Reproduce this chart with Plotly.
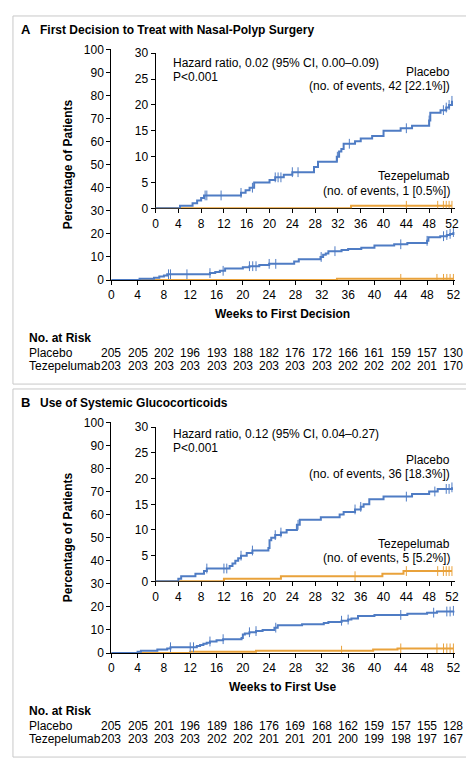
import numpy as np
import plotly.graph_objects as go

BLUE = "#4f7cc4"
ORANGE = "#e9a23b"
FONT = "Liberation Sans, Arial"

weeks = list(range(0, 53, 4))

# Panel A: first decision to treat with nasal-polyp surgery
a_pla_t = [0, 4.3, 6.5, 7.3, 8, 8.5, 15, 15.8, 16.5, 17.3, 20, 21, 22.5, 24, 27.8, 28.5,
           31.8, 32.2, 32.6, 33, 35, 36, 38, 40, 43, 45, 48, 48.2, 50, 51, 51.5, 52]
a_pla_y = [0, 0.5, 1, 1.5, 2, 2.5, 3, 3.5, 4, 5, 5.5, 6, 6.5, 7, 8, 9,
           10, 11, 11.5, 12.5, 13, 13.5, 14, 15, 15.5, 16, 17, 18.5, 19, 19.5, 20, 20.8]
a_pla_cens = [8.7, 9, 11.5, 15, 17, 21, 21.5, 22, 24, 25, 31.9, 34, 44, 48, 50.5, 51, 51.5, 52]
a_tez_t = [0, 34.3, 52]
a_tez_y = [0, 0.5, 0.5]
a_tez_cens = [44, 49.5, 50.5, 51, 51.5, 52]
a_risk_pla = [205, 205, 202, 196, 193, 188, 182, 176, 172, 166, 161, 159, 157, 130]
a_risk_tez = [203, 203, 203, 203, 203, 203, 203, 203, 203, 202, 202, 202, 201, 170]

# Panel B: use of systemic glucocorticoids
b_pla_t = [0, 4, 4.5, 7, 8.5, 9, 13, 13.5, 14, 14.5, 15, 16, 17, 19.8, 20, 20.3, 21, 22, 23,
           24.8, 25.3, 29, 32.3, 33, 35, 36, 36.5, 37.5, 40, 45, 48, 49.5, 52]
b_pla_y = [0, 0.5, 1, 1.5, 2, 2.5, 3, 3.5, 4, 4.5, 5, 5.5, 6, 6.5, 8, 8.5, 9, 9.5, 10,
           11, 12, 12.5, 13, 13.5, 14, 14.5, 15, 16, 16.5, 17, 17.5, 18, 18.3]
b_pla_cens = [9, 12, 12.5, 15, 17, 21, 22, 25, 35, 36, 44, 49, 51, 51.5, 52]
b_tez_t = [0, 12, 22, 39.8, 43.5, 52]
b_tez_y = [0, 0.5, 1, 1.5, 2, 2]
b_tez_cens = [35, 44, 49.5, 50.5, 51, 51.5, 52]
b_risk_pla = [205, 205, 201, 196, 189, 186, 176, 169, 168, 162, 159, 157, 155, 128]
b_risk_tez = [203, 203, 203, 203, 202, 202, 201, 201, 201, 200, 199, 198, 197, 167]

W, H = 474, 759


def px(v):
    return 1 - v / H


def step_at(ts, ys, t):
    i = np.searchsorted(ts, t, side="right") - 1
    return ys[max(i, 0)]


fig = go.Figure()


def add_curves(xa, ya, t, y, cens, color):
    fig.add_trace(go.Scatter(x=t, y=y, mode="lines", line=dict(color=color, width=2, shape="hv"),
                             xaxis=xa, yaxis=ya, showlegend=False, hoverinfo="skip"))
    fig.add_trace(go.Scatter(x=cens, y=[step_at(t, y, c) for c in cens], mode="markers",
                             marker=dict(symbol="line-ns-open", size=7, color=color,
                                         line=dict(color=color, width=1)),
                             xaxis=xa, yaxis=ya, showlegend=False, hoverinfo="skip"))


panels = [
    dict(main=("x", "y"), ins=("x2", "y2"), pla=(a_pla_t, a_pla_y, a_pla_cens),
         tez=(a_tez_t, a_tez_y, a_tez_cens)),
    dict(main=("x3", "y3"), ins=("x4", "y4"), pla=(b_pla_t, b_pla_y, b_pla_cens),
         tez=(b_tez_t, b_tez_y, b_tez_cens)),
]
for p in panels:
    for xa, ya in (p["main"], p["ins"]):
        add_curves(xa, ya, *p["tez"], ORANGE)
        add_curves(xa, ya, *p["pla"], BLUE)

ax_common = dict(showgrid=False, zeroline=False, showline=True, linecolor="black", linewidth=1,
                 ticks="outside", ticklen=4, tickcolor="black", layer="below traces",
                 tickfont=dict(size=12, family=FONT))
xmain = dict(domain=[102 / W, 452 / W], range=[0, 52.3], tickvals=weeks, **ax_common)
xins = dict(domain=[147 / W, 452 / W], range=[0, 52.6], tickvals=weeks, **ax_common)
ymain = dict(range=[0, 100], tickvals=list(range(0, 101, 10)), **ax_common)
yins = dict(range=[0, 30], tickvals=list(range(0, 31, 5)), **ax_common)

fig.update_layout(
    width=W, height=H, margin=dict(l=0, r=0, t=0, b=0),
    paper_bgcolor="white", plot_bgcolor="rgba(0,0,0,0)",
    font=dict(family=FONT, size=12, color="black"),
    xaxis=dict(anchor="y", **xmain),
    yaxis=dict(anchor="x", domain=[px(270), px(35)], **ymain),
    xaxis2=dict(anchor="y2", **xins),
    yaxis2=dict(anchor="x2", domain=[px(197), px(39)], **yins),
    xaxis3=dict(anchor="y3", **xmain),
    yaxis3=dict(anchor="x3", domain=[px(650), px(415)], **ymain),
    xaxis4=dict(anchor="y4", **xins),
    yaxis4=dict(anchor="x4", domain=[px(577), px(420)], **yins),
)

ann = []


def txt(x, y, s, xref="paper", yref="paper", xanchor="left", size=12, bold=False, **kw):
    ann.append(dict(x=x, y=y, xref=xref, yref=yref, text=f"<b>{s}</b>" if bold else s,
                    showarrow=False, xanchor=xanchor, yanchor="middle",
                    font=dict(size=size, family=FONT, color="black"), **kw))


specs = [
    dict(off=0, letter="A", title="First Decision to Treat with Nasal-Polyp Surgery",
         xlabel="Weeks to First Decision", hr="Hazard ratio, 0.02 (95% CI, 0.00–0.09)",
         pla_lab="(no. of events, 42 [22.1%])", tez_lab="(no. of events, 1 [0.5%])",
         ins="x2", insy="y2", mx="x", rp=a_risk_pla, rt=a_risk_tez,
         ly=(26.4, 23.7, 6.3, 3.4), hy=(28.2, 25.5)),
    dict(off=380, letter="B", title="Use of Systemic Glucocorticoids",
         xlabel="Weeks to First Use", hr="Hazard ratio, 0.12 (95% CI, 0.04–0.27)",
         pla_lab="(no. of events, 36 [18.3%])", tez_lab="(no. of events, 5 [5.2%])",
         ins="x4", insy="y4", mx="x3", rp=b_risk_pla, rt=b_risk_tez,
         ly=(23.7, 20.9, 7.3, 4.6), hy=(28.6, 25.9)),
]
for s in specs:
    o = s["off"]
    txt(8 / W, px(o + 15), s["letter"], size=13, bold=True)
    txt(27 / W, px(o + 15), s["title"], size=12, bold=True)
    txt(276 / W, px(o + 305), s["xlabel"], xanchor="center", size=12, bold=True)
    txt(58 / W, px(o + 152), "<b>Percentage of Patients</b>", xanchor="center", size=12, textangle=-90)
    txt(2.8, s["hy"][0], s["hr"], xref=s["ins"], yref=s["insy"])
    txt(2.8, s["hy"][1], "P<0.001", xref=s["ins"], yref=s["insy"])
    txt(52, s["ly"][0], "Placebo", xref=s["ins"], yref=s["insy"], xanchor="right")
    txt(52, s["ly"][1], s["pla_lab"], xref=s["ins"], yref=s["insy"], xanchor="right")
    txt(52, s["ly"][2], "Tezepelumab", xref=s["ins"], yref=s["insy"], xanchor="right")
    txt(52, s["ly"][3], s["tez_lab"], xref=s["ins"], yref=s["insy"], xanchor="right")
    txt(16 / W, px(o + 329), "No. at Risk", size=12, bold=True)
    txt(16 / W, px(o + 344), "Placebo")
    txt(16 / W, px(o + 358), "Tezepelumab")
    for w, a, b in zip(weeks, s["rp"], s["rt"]):
        txt(w, px(o + 344), str(a), xref=s["mx"], xanchor="center")
        txt(w, px(o + 358), str(b), xref=s["mx"], xanchor="center")
    fig.add_shape(type="rect", xref="paper", yref="paper", x0=2 / W, x1=472 / W,
                  y0=px(o + 376), y1=px(o + 1), line=dict(color="#c8c8c8", width=1))

fig.update_layout(annotations=ann)
fig.write_html("out.html")
